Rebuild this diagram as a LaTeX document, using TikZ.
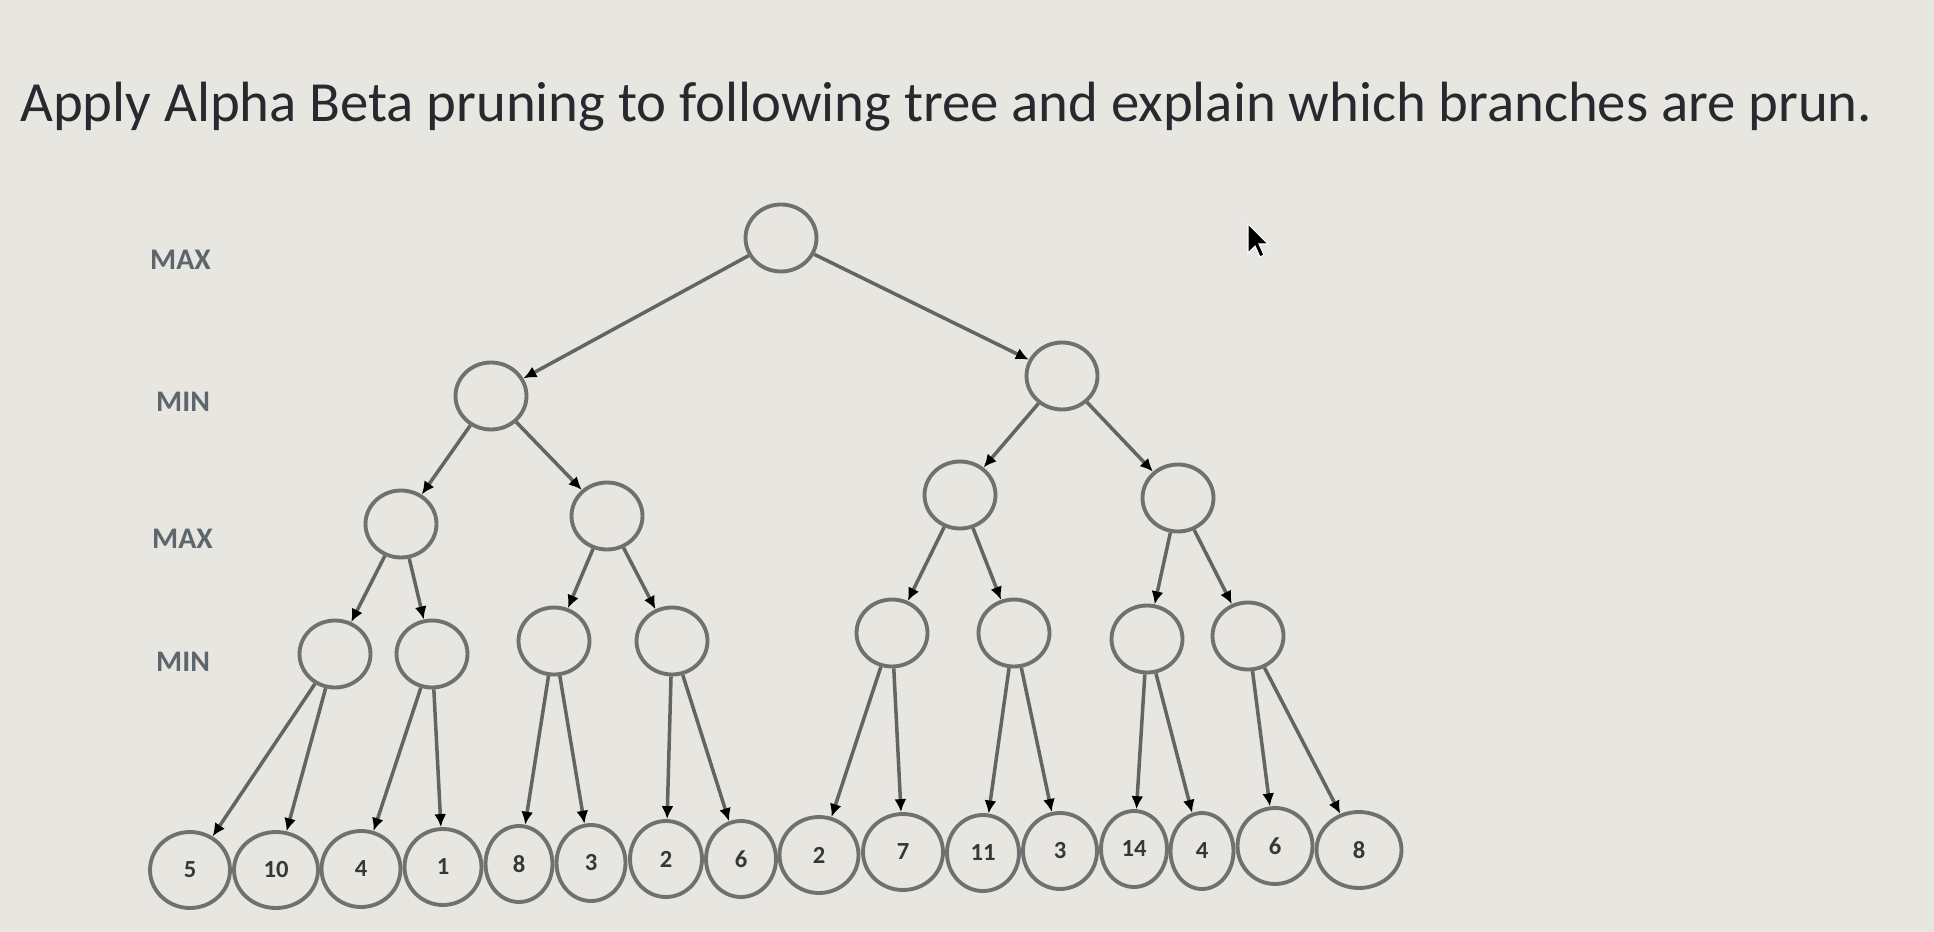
\documentclass[tikz,border=0pt]{standalone}
\usepackage{fontspec}
\setmainfont{Carlito}
\usetikzlibrary{arrows.meta,shapes.geometric}

\definecolor{paper}{RGB}{232,230,224}
\definecolor{ringgrey}{RGB}{112,112,112}
\definecolor{edgegrey}{RGB}{100,100,100}
\definecolor{inkgrey}{RGB}{40,40,46}
\definecolor{plygrey}{RGB}{92,102,108}
\definecolor{digitgrey}{RGB}{55,55,55}

\begin{document}
\begin{tikzpicture}[x=0.02cm,y=-0.02cm,
  gamenode/.style={draw=ringgrey,line width=2.2pt,ellipse,minimum width=1.42cm,minimum height=1.34cm,inner sep=0pt},
  leafnode/.style={draw=ringgrey,line width=2.2pt,ellipse,minimum height=1.52cm,inner sep=0pt,text=digitgrey,font=\bfseries\fontsize{14}{14}\selectfont},
  plylabel/.style={anchor=west,text=plygrey,font=\bfseries\fontsize{17}{17}\selectfont},
  branch/.style={draw=edgegrey,line width=2pt,-{Latex[length=0.26cm,width=0.24cm,color=black]}}]

  \fill[paper] (0,0) rectangle (1934,932);
  \useasboundingbox (0,0) rectangle (1934,932);

  \node[anchor=base west,text=inkgrey,font=\fontsize{32.3}{32.3}\selectfont] (title) at (14,122)
    {Apply Alpha Beta pruning to following tree and explain which branches are prun.};

  \node[plylabel] (ply1) at (144,260) {MAX};
  \node[plylabel] (ply2) at (150,402) {MIN};
  \node[plylabel] (ply3) at (146,539) {MAX};
  \node[plylabel] (ply4) at (150,662) {MIN};

  \node[gamenode] (root) at (781,238) {};

  \node[gamenode] (m1) at (491,396) {};
  \node[gamenode] (m2) at (1062,376) {};

  \node[gamenode] (x1) at (401,524) {};
  \node[gamenode] (x2) at (607,516) {};
  \node[gamenode] (x3) at (960,495) {};
  \node[gamenode] (x4) at (1178,498) {};

  \node[gamenode] (n1) at (335,654) {};
  \node[gamenode] (n2) at (432,654) {};
  \node[gamenode] (n3) at (554,641) {};
  \node[gamenode] (n4) at (672,641) {};
  \node[gamenode] (n5) at (892,633) {};
  \node[gamenode] (n6) at (1014,633) {};
  \node[gamenode] (n7) at (1147,639) {};
  \node[gamenode] (n8) at (1248,636) {};

  \node[leafnode,minimum width=1.60cm] (l1) at (190,870) {5};
  \node[leafnode,minimum width=1.68cm] (l2) at (276,870) {10};
  \node[leafnode,minimum width=1.58cm] (l3) at (361,869) {4};
  \node[leafnode,minimum width=1.54cm] (l4) at (443,867) {1};
  \node[leafnode,minimum width=1.34cm] (l5) at (519,864) {8};
  \node[leafnode,minimum width=1.38cm] (l6) at (591,863) {3};
  \node[leafnode,minimum width=1.44cm] (l7) at (666,859) {2};
  \node[leafnode,minimum width=1.40cm] (l8) at (741,859) {6};
  \node[leafnode,minimum width=1.58cm] (l9) at (819,855) {2};
  \node[leafnode,minimum width=1.60cm] (l10) at (903,852) {7};
  \node[leafnode,minimum width=1.44cm] (l11) at (983,853) {11};
  \node[leafnode,minimum width=1.48cm] (l12) at (1060,851) {3};
  \node[leafnode,minimum width=1.32cm] (l13) at (1134,849) {14};
  \node[leafnode,minimum width=1.26cm] (l14) at (1202,851) {4};
  \node[leafnode,minimum width=1.50cm] (l15) at (1275,846) {6};
  \node[leafnode,minimum width=1.70cm] (l16) at (1359,850) {8};

  \draw[branch] (root) edge (m1);
  \draw[branch] (root) edge (m2);
  \draw[branch] (m1) edge (x1);
  \draw[branch] (m1) edge (x2);
  \draw[branch] (m2) edge (x3);
  \draw[branch] (m2) edge (x4);
  \draw[branch] (x1) edge (n1);
  \draw[branch] (x1) edge (n2);
  \draw[branch] (x2) edge (n3);
  \draw[branch] (x2) edge (n4);
  \draw[branch] (x3) edge (n5);
  \draw[branch] (x3) edge (n6);
  \draw[branch] (x4) edge (n7);
  \draw[branch] (x4) edge (n8);
  \draw[branch] (n1) edge (l1);
  \draw[branch] (n1) edge (l2);
  \draw[branch] (n2) edge (l3);
  \draw[branch] (n2) edge (l4);
  \draw[branch] (n3) edge (l5);
  \draw[branch] (n3) edge (l6);
  \draw[branch] (n4) edge (l7);
  \draw[branch] (n4) edge (l8);
  \draw[branch] (n5) edge (l9);
  \draw[branch] (n5) edge (l10);
  \draw[branch] (n6) edge (l11);
  \draw[branch] (n6) edge (l12);
  \draw[branch] (n7) edge (l13);
  \draw[branch] (n7) edge (l14);
  \draw[branch] (n8) edge (l15);
  \draw[branch] (n8) edge (l16);

  % mouse pointer
  \filldraw[fill=black,draw=white,line width=0.6pt,shift={(1248,224)}]
    (0,0) -- (0,29) -- (7,22) -- (12,33) -- (16,31) -- (11,20) -- (20,20) -- cycle;

\end{tikzpicture}
\end{document}
